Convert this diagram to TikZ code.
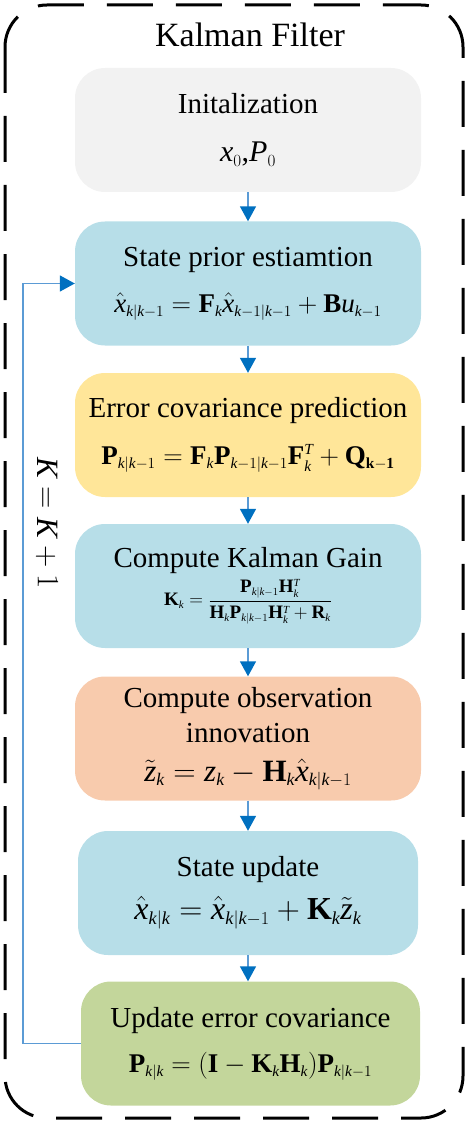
\RequirePackage{fix-cm}
\documentclass[tikz,border=0pt]{standalone}
\usepackage{fontspec}
\setmainfont[NFSSFamily=libser]{Liberation Serif}
\DeclareSymbolFont{letters}{TU}{libser}{m}{it}
\DeclareMathAlphabet{\mathbf}{TU}{libser}{b}{n}
\renewcommand\defaultscriptratio{.57}
\renewcommand\defaultscriptscriptratio{.45}
\usetikzlibrary{arrows.meta}
\definecolor{cgray}{HTML}{F2F2F2}
\definecolor{cblue}{HTML}{B7DEE8}
\definecolor{cyellow}{HTML}{FFE699}
\definecolor{corange}{HTML}{F8CBAD}
\definecolor{cgreen}{HTML}{C3D69B}
\definecolor{lineblue}{HTML}{5B9BD5}
\definecolor{headblue}{HTML}{0070C0}
\tikzset{
  stage/.style={rounded corners=30pt, minimum width=346pt, minimum height=124pt,
    align=center, inner sep=0pt,
    font=\fontsize{29}{35}\selectfont},
  flow/.style={draw=lineblue, line width=1.5pt,
    -{Triangle[width=16pt,length=15pt,color=headblue]}},
  outer/.style={line width=3pt, dash pattern=on 46pt off 23pt, rounded corners=42pt},
}
\newcommand{\eqsize}[1]{\fontsize{#1}{36}\selectfont}
\begin{document}
\begin{tikzpicture}[x=1pt,y=-1pt]
\useasboundingbox (0,0) rectangle (468,1123);
\draw[outer] (5,5) rectangle (463,1118);
\node[font=\fontsize{34}{40}\selectfont] (title) at (250,35) {Kalman Filter};

\node[stage, fill=cgray] (init) at (248,130) {Initalization\\[13pt] \eqsize{30}$x_0\mbox{,}P_0$};
\node[stage, fill=cblue] (prior) at (248,283.5) {State prior estiamtion\\[11pt] \eqsize{27}$\hat{x}_{k|k-1} = \mathbf{F}_k\hat{x}_{k-1|k-1} + \mathbf{B}u_{k-1}$};
\node[stage, fill=cyellow] (pred) at (248,435) {Error covariance prediction\\[12pt] \eqsize{27}$\mathbf{P}_{k|k-1} = \mathbf{F}_k\mathbf{P}_{k-1|k-1}\mathbf{F}_k^T + \mathbf{Q}_{\mathbf{k-1}}$};
\node[stage, fill=cblue] (gain) at (248,586) {Compute Kalman Gain\\[3pt] {\fontsize{19}{24}\selectfont $\displaystyle \mathbf{K}_k = \frac{\mathbf{P}_{k|k-1}\mathbf{H}_k^T}{\mathbf{H}_k\mathbf{P}_{k|k-1}\mathbf{H}_k^T + \mathbf{R}_k}$}};
\node[stage, fill=corange] (innov) at (248,738.5) {Compute observation\\innovation\\[4pt] \eqsize{31}$\tilde{z}_k = z_k - \mathbf{H}_k\hat{x}_{k|k-1}$};
\node[stage, fill=cblue, minimum width=340pt] (upd) at (248,893) {State update\\[8pt] \eqsize{32}$\hat{x}_{k|k} = \hat{x}_{k|k-1} + \mathbf{K}_k\tilde{z}_k$};
\node[stage, fill=cgreen, minimum width=339pt] (cov) at (250.5,1043.5) {Update error covariance\\[10pt] \eqsize{27}$\mathbf{P}_{k|k} = (\mathbf{I} - \mathbf{K}_k\mathbf{H}_k)\mathbf{P}_{k|k-1}$};

\draw[flow] (init.south) -- (init.south |- prior.north);
\draw[flow] (prior.south) -- (prior.south |- pred.north);
\draw[flow] (pred.south) -- (pred.south |- gain.north);
\draw[flow] (gain.south) -- (gain.south |- innov.north);
\draw[flow] (innov.south) -- (innov.south |- upd.north);
\draw[flow] (upd.south) -- (upd.south |- cov.north);

\coordinate (fb) at (23,0);
\draw[flow] (cov.west) -- (cov.west -| fb) |- (prior.west);
\node[rotate=-90, font=\fontsize{31}{37}\selectfont] (iter) at (47,523) {$K = K + 1$};
\end{tikzpicture}
\end{document}
